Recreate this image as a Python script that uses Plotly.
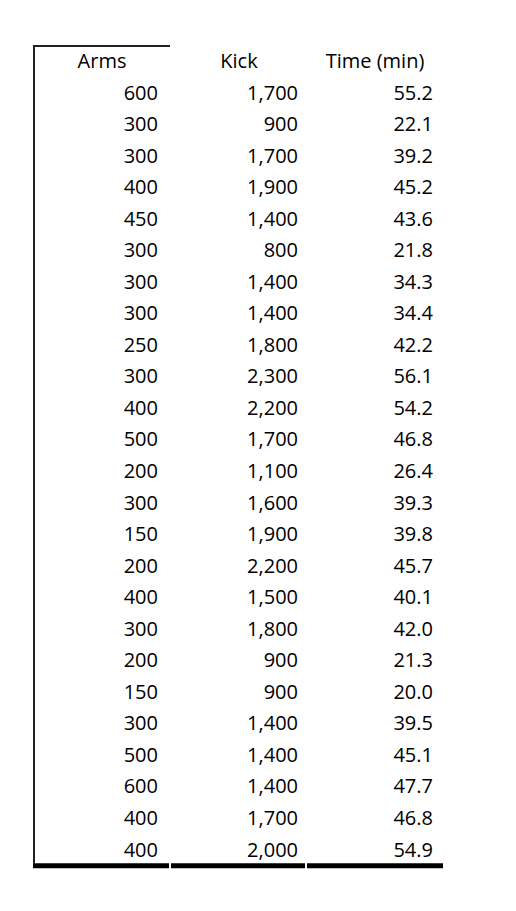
import plotly.graph_objects as go

# table data
arms = [600, 300, 300, 400, 450, 300, 300, 300, 250, 300, 400, 500, 200,
        300, 150, 200, 400, 300, 200, 150, 300, 500, 600, 400, 400]
kick = [1700, 900, 1700, 1900, 1400, 800, 1400, 1400, 1800, 2300, 2200, 1700, 1100,
        1600, 1900, 2200, 1500, 1800, 900, 900, 1400, 1400, 1400, 1700, 2000]
time_min = [55.2, 22.1, 39.2, 45.2, 43.6, 21.8, 34.3, 34.4, 42.2, 56.1, 54.2, 46.8, 26.4,
            39.3, 39.8, 45.7, 40.1, 42.0, 21.3, 20.0, 39.5, 45.1, 47.7, 46.8, 54.9]
headers = ['Arms', 'Kick', 'Time (min)']

rows = list(range(1, len(arms) + 1))
font = dict(family='Open Sans', size=20, color='black')

fig = go.Figure()

# header row
fig.add_trace(go.Scatter(x=[102, 239, 375], y=[0, 0, 0], mode='text',
                         text=headers, textposition='middle center', textfont=font))

# columns, right aligned
cols = [(158, [str(a) for a in arms]),
        (298, [f'{k:,}' for k in kick]),
        (433, [f'{t:.1f}' for t in time_min])]
for xr, labels in cols:
    fig.add_trace(go.Scatter(x=[xr] * len(labels), y=rows, mode='text',
                             text=labels, textposition='middle left', textfont=font))

# borders
line = dict(color='#222', width=2)
fig.add_shape(type='line', x0=33, x1=170, y0=-0.54, y1=-0.54, line=line)
fig.add_shape(type='line', x0=34, x1=34, y0=-0.54, y1=25.4, line=line)
for x0, x1 in [(33, 169), (171, 305), (307, 443)]:
    fig.add_shape(type='line', x0=x0, x1=x1, y0=25.45, y1=25.45,
                  line=dict(color='black', width=5))

fig.update_layout(
    width=516, height=911, margin=dict(l=0, r=0, t=0, b=0),
    plot_bgcolor='white', paper_bgcolor='white', showlegend=False,
    xaxis=dict(range=[8, 524], visible=False, fixedrange=True),
    yaxis=dict(range=[27.14, -1.744], visible=False, fixedrange=True),
)

fig.write_html("out.html")
